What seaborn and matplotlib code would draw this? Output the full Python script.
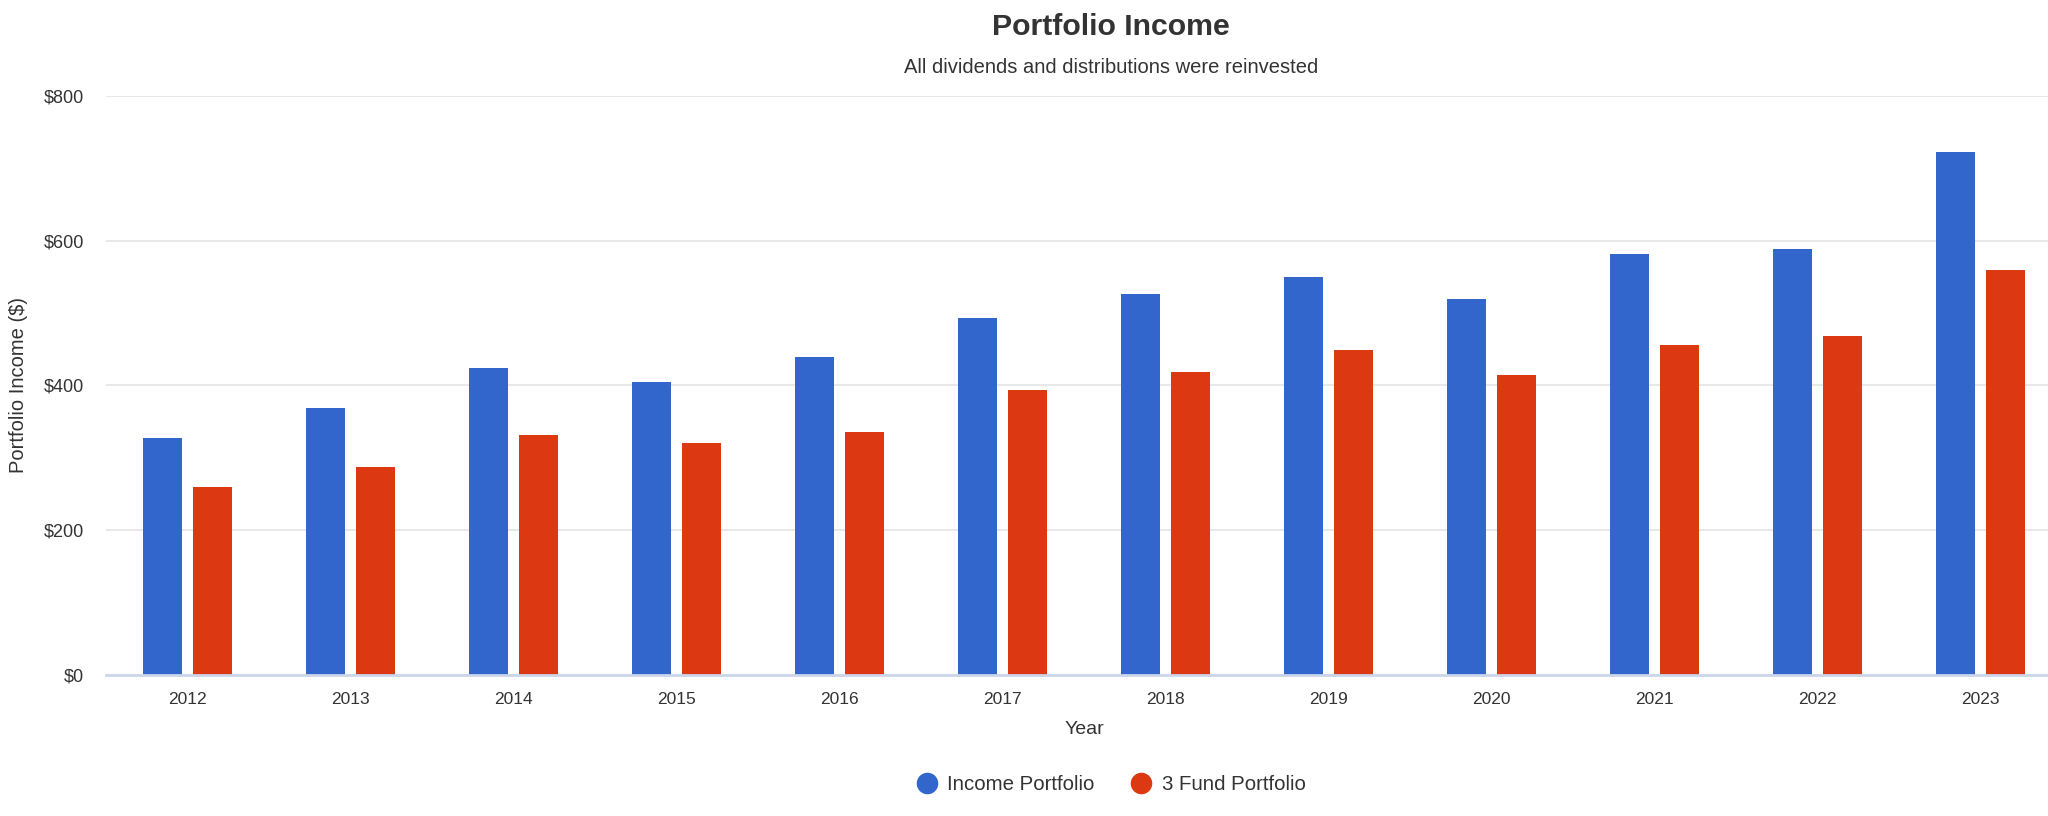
import pandas as pd
import numpy as np
import seaborn as sns
import matplotlib.pyplot as plt
from matplotlib.lines import Line2D
from matplotlib.ticker import FuncFormatter

# Values
years = ['2012', '2013', '2014', '2015', '2016', '2017',
         '2018', '2019', '2020', '2021', '2022', '2023']
income_portfolio = [327, 369, 424, 405, 440, 493, 527, 550, 520, 582, 589, 723]
three_fund_portfolio = [260, 288, 332, 320, 336, 394, 419, 449, 414, 456, 468, 559]
series_names = ['Income Portfolio', '3 Fund Portfolio']
colors = ['#3366CC', '#DC3912']

df = pd.DataFrame({
    'Year': years * 2,
    'Income': income_portfolio + three_fund_portfolio,
    'Portfolio': [series_names[0]] * len(years) + [series_names[1]] * len(years),
})

sns.set_theme(style='white')
plt.rcParams['font.family'] = ['Liberation Sans', 'DejaVu Sans']
text_color = '#333333'

fig = plt.figure(figsize=(20.48, 8.16), dpi=100)
ax = fig.add_axes([0.0518, 0.1728, 0.955, 0.7096])

sns.barplot(data=df, x='Year', y='Income', hue='Portfolio', order=years,
            hue_order=series_names, palette=colors, width=0.614, gap=0.22,
            saturation=1, linewidth=0, legend=False, ax=ax)

ax.set_xlim(-0.5, 11.5)
ax.set_ylim(0, 800)
ax.set_yticks([0, 200, 400, 600, 800])
ax.yaxis.set_major_formatter(FuncFormatter(lambda v, p: f'${v:.0f}'))
ax.grid(axis='y', color='#e6e6e6', linewidth=1.3)
ax.set_axisbelow(True)
for side in ['top', 'right', 'left']:
    ax.spines[side].set_visible(False)
ax.spines['bottom'].set_color('#ccd6eb')
ax.spines['bottom'].set_linewidth(2)
ax.tick_params(axis='y', length=0, pad=16, labelsize=13, labelcolor=text_color)
ax.tick_params(axis='x', length=0, pad=12, labelsize=12.5, labelcolor=text_color)

ax.set_xlabel('Year', fontsize=14, color=text_color, labelpad=10)
ax.set_ylabel('')
fig.text(19 / 2048, 0.5276, 'Portfolio Income ($)', rotation=90, ha='center', va='center',
         fontsize=14.5, color=text_color)

fig.text(0.5425, 0.967, 'Portfolio Income', ha='center', va='center',
         fontsize=21.8, fontweight='bold', color=text_color)
fig.text(0.5425, 0.917, 'All dividends and distributions were reinvested',
         ha='center', va='center', fontsize=14.5, color=text_color)

handles = [Line2D([], [], linestyle='none', marker='o', markersize=14.5,
                  markerfacecolor=c, markeredgecolor=c) for c in colors]
fig.legend(handles, series_names, loc='center', bbox_to_anchor=(0.5425, 0.039),
           ncol=2, frameon=False, fontsize=14.7, labelcolor=text_color,
           handletextpad=0.5, columnspacing=1.8, handlelength=1.0)

fig.savefig('out.png', dpi=100)
